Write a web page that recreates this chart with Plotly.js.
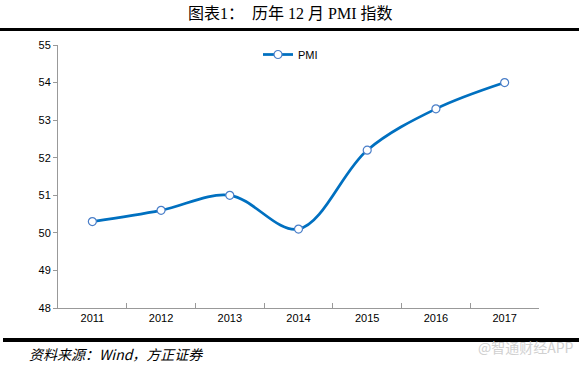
<!DOCTYPE html>
<html>
<head>
<meta charset="utf-8">
<script src="https://cdn.plot.ly/plotly-3.0.1.min.js"></script>
<style>html,body{margin:0;padding:0;background:#fff;}#chart{width:579px;height:366px;}</style>
</head>
<body>
<div id="chart"></div>
<script>
var years = ['2011','2012','2013','2014','2015','2016','2017'];
var pmi = [50.3, 50.6, 51.0, 50.1, 52.2, 53.3, 54.0];
var yTicks = [48, 49, 50, 51, 52, 53, 54, 55];

var W = 579, H = 366, L = 58, R = 40, T = 45, B = 58;
var pw = W - L - R, ph = H - T - B;
function px(x){ return (x - L) / pw; }
function py(y){ return (H - B - y) / ph; }

var trace = {
  x: years, y: pmi, type: 'scatter', mode: 'lines+markers', name: 'PMI',
  line: {color: '#0070C0', width: 2.75, shape: 'spline', smoothing: 1},
  marker: {symbol: 'circle', size: 8, color: '#ffffff', line: {color: '#4A7EC8', width: 1.2}}
};

var layout = {
  width: W, height: H,
  margin: {l: L, r: R, t: T, b: B, pad: 0},
  paper_bgcolor: '#ffffff', plot_bgcolor: '#ffffff',
  font: {family: 'Arial, "Liberation Sans", "Noto Sans CJK SC", sans-serif', size: 11, color: '#000'},
  showlegend: true,
  legend: {x: px(258), y: py(40), xanchor: 'left', yanchor: 'top', orientation: 'h',
           font: {size: 11, color: '#000'}, bgcolor: 'rgba(0,0,0,0)', itemwidth: 30},
  xaxis: {type: 'category', range: [-0.5, 6.5], tickson: 'boundaries', ticks: 'inside', ticklen: 5,
          tickcolor: '#999', showline: true, linecolor: '#999', linewidth: 1, showgrid: false,
          zeroline: false, fixedrange: true, tickfont: {size: 11}},
  yaxis: {range: [48, 55], tickvals: yTicks, ticktext: yTicks.map(String), ticks: 'outside', ticklen: 4,
          tickcolor: '#999', showline: true, linecolor: '#999', linewidth: 1, showgrid: false,
          zeroline: false, fixedrange: true, tickfont: {size: 11}},
  shapes: [
    {type: 'line', xref: 'paper', yref: 'paper', x0: px(0), x1: px(579), y0: py(29.5), y1: py(29.5),
     line: {color: '#000', width: 3}},
    {type: 'line', xref: 'paper', yref: 'paper', x0: px(3), x1: px(579), y0: py(340), y1: py(340),
     line: {color: '#000', width: 4}}
  ],
  annotations: [
    {text: '图表1：  历年 12 月 PMI 指数', xref: 'paper', yref: 'paper', x: px(290), y: py(14),
     xanchor: 'center', yanchor: 'middle', showarrow: false,
     font: {family: '"Liberation Serif", "Noto Sans CJK SC", serif', size: 16, color: '#000'}},
    {text: '<i>资料来源：Wind，方正证券</i>', xref: 'paper', yref: 'paper', x: px(27), y: py(354),
     xanchor: 'left', yanchor: 'middle', showarrow: false,
     font: {family: '"Noto Sans CJK SC", sans-serif', size: 14, color: '#000'}},
    {text: '@智通财经APP', xref: 'paper', yref: 'paper', x: px(576), y: py(347),
     xanchor: 'right', yanchor: 'middle', showarrow: false,
     font: {family: '"Noto Sans CJK SC", sans-serif', size: 14, color: '#d0d0d0'}}
  ]
};

Plotly.newPlot('chart', [trace], layout, {displayModeBar: false, staticPlot: true});
</script>
</body>
</html>
